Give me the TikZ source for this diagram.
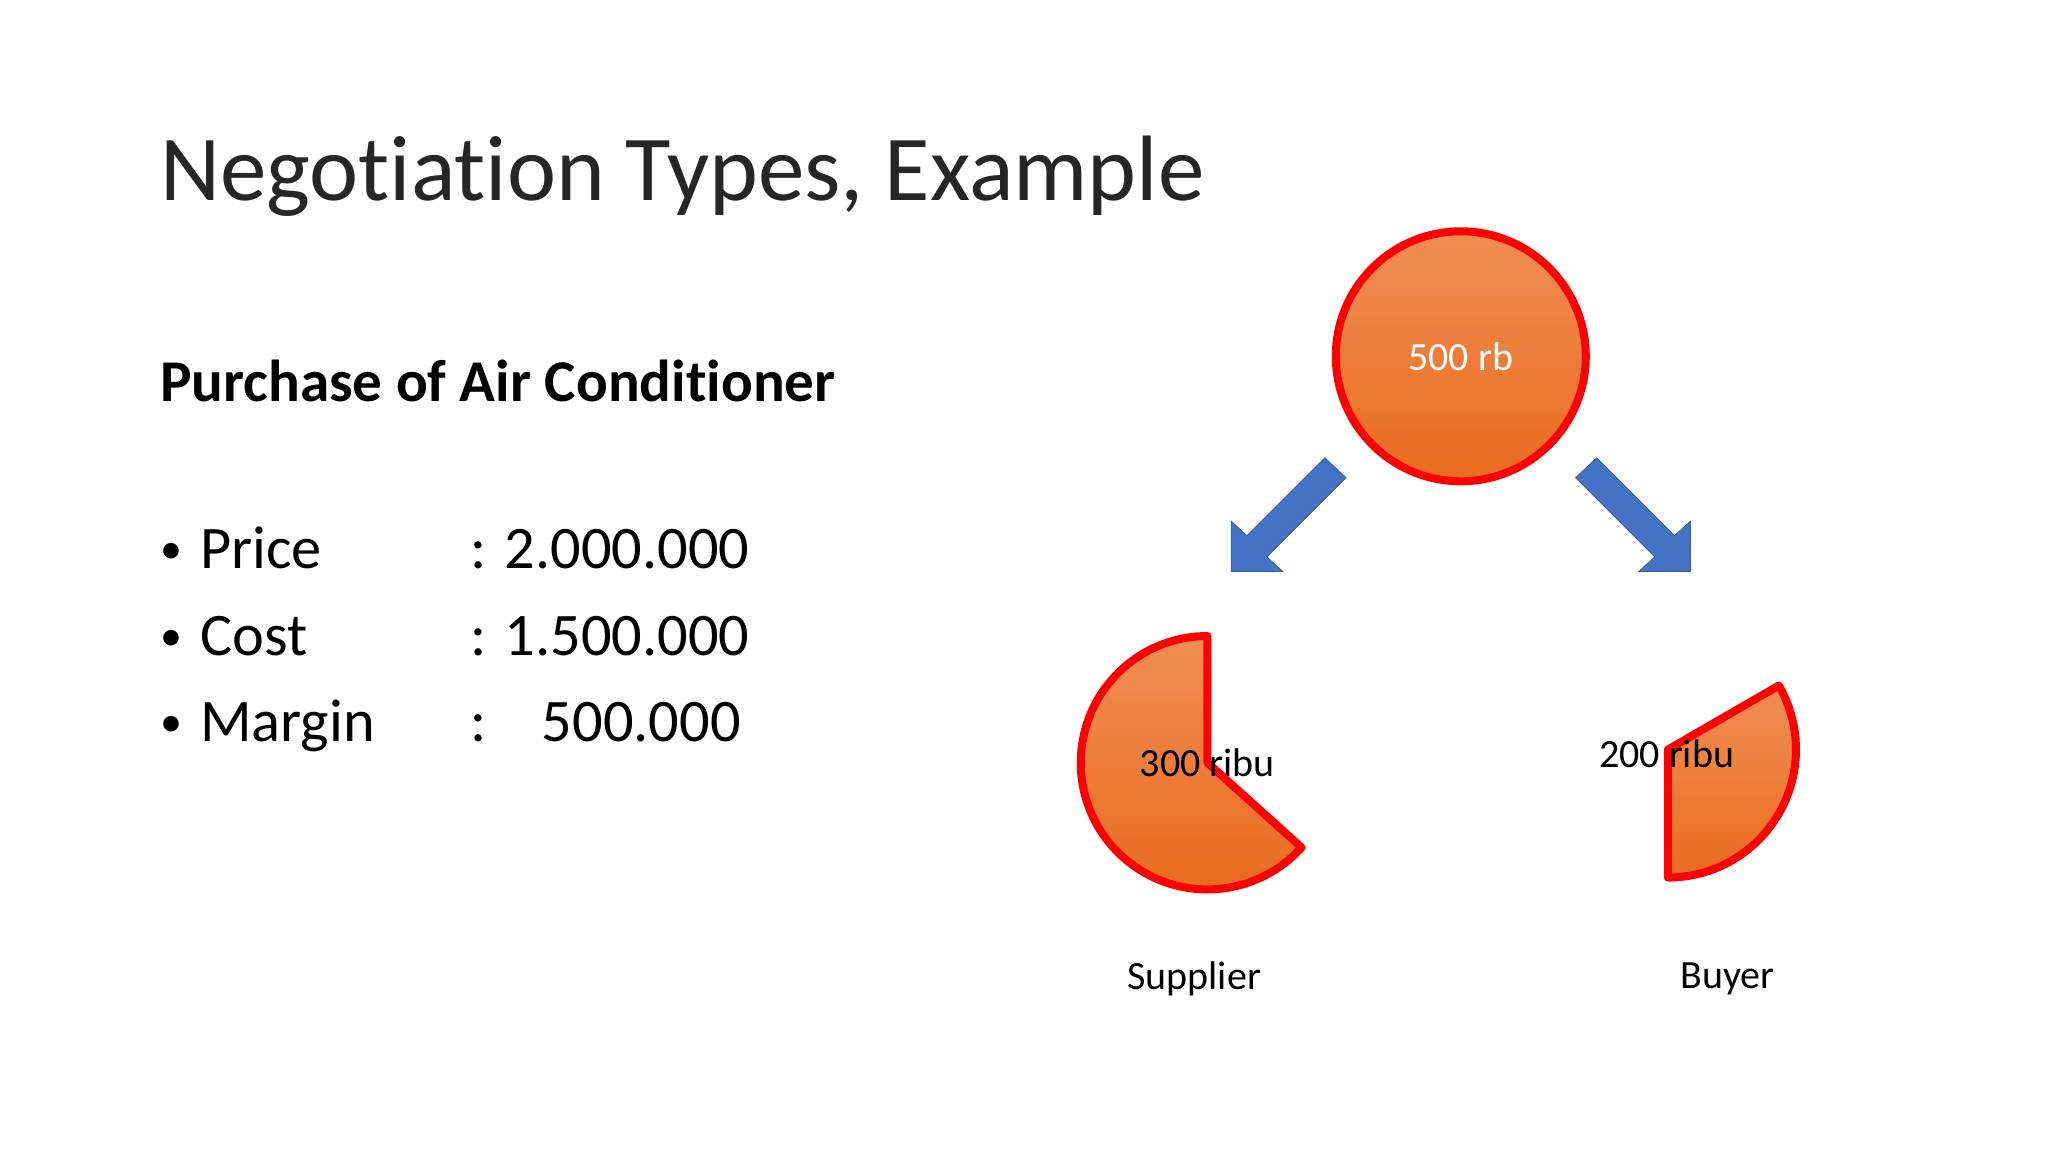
\documentclass[tikz,border=0pt]{standalone}
\usepackage{fontspec}
\setmainfont{Carlito}[Ligatures={NoCommon,NoRare}]
\begin{document}
\begin{tikzpicture}[x=0.6598pt,y=-0.6598pt,
  pie/.style={draw=red,line width=4pt,line join=round,top color=orangeT,bottom color=orangeB},
  blk/.style={fill=arrowblue,draw=arrowblue!80!black,line width=0.4pt},
  lbl/.style={font=\fontsize{20}{24}\selectfont,inner sep=0pt}]
\definecolor{orangeT}{HTML}{F08E55}
\definecolor{orangeB}{HTML}{E96C1E}
\definecolor{arrowblue}{HTML}{4472C4}
\useasboundingbox (0,0) rectangle (1552,873);
\node[anchor=base west,inner sep=0pt,font=\fontsize{46.5}{56}\selectfont,text=black!85] (title) at (121,152) {Negotiation Types, Example};
\node[anchor=base west,inner sep=0pt,font=\fontsize{29.6}{34}\selectfont\bfseries] (head) at (121,304) {Purchase of Air Conditioner};
\foreach \y/\n/\v [count=\i] in {431/Price/{: 2.000.000},497/Cost/{: 1.500.000},562/Margin/{:\hspace{0.92em}500.000}}{
  \node[anchor=base west,inner sep=0pt,font=\fontsize{30.2}{36}\selectfont] (b\i) at (121,\y) {{\fontsize{22}{24}\selectfont\raisebox{0.12em}{\textbullet}}\hspace{0.3em}\n};
  \node[anchor=base west,inner sep=0pt,font=\fontsize{30.2}{36}\selectfont] (v\i) at (356,\y) {\v};
}
% top circle
\node[circle,minimum size=125pt,draw=red,line width=4pt,top color=orangeT,bottom color=orangeB,inner sep=0pt] (top) at (1107,270) {};
\node[lbl,text=white] (toplbl) at (top.center) {500 rb};
% arrows
\path[blk] (1004,347)--(945,406)--(933,395)--(933,433)--(972,433)--(960,422)--(1020,362)--cycle;
\path[blk] (1210,347)--(1269,406)--(1281,395)--(1281,433)--(1242,433)--(1254,422)--(1194,362)--cycle;
% pies
\coordinate (lc) at (915,578);
\coordinate (rc) at (1264,568);
\path[pie] (lc) -- ++(-90:96) arc[start angle=-90,end angle=-318,radius=96] -- cycle;
\path[pie] (rc) -- ++(90:97) arc[start angle=90,end angle=-30,radius=97] -- cycle;
\node[lbl] (l300) at (915,578) {300 ribu};
\node[lbl] (l200) at (1263,571) {200 ribu};
\node[lbl] (sup) at (905,742) {Supplier};
\node[lbl] (buy) at (1309,742) {Buyer};
\end{tikzpicture}
\end{document}
